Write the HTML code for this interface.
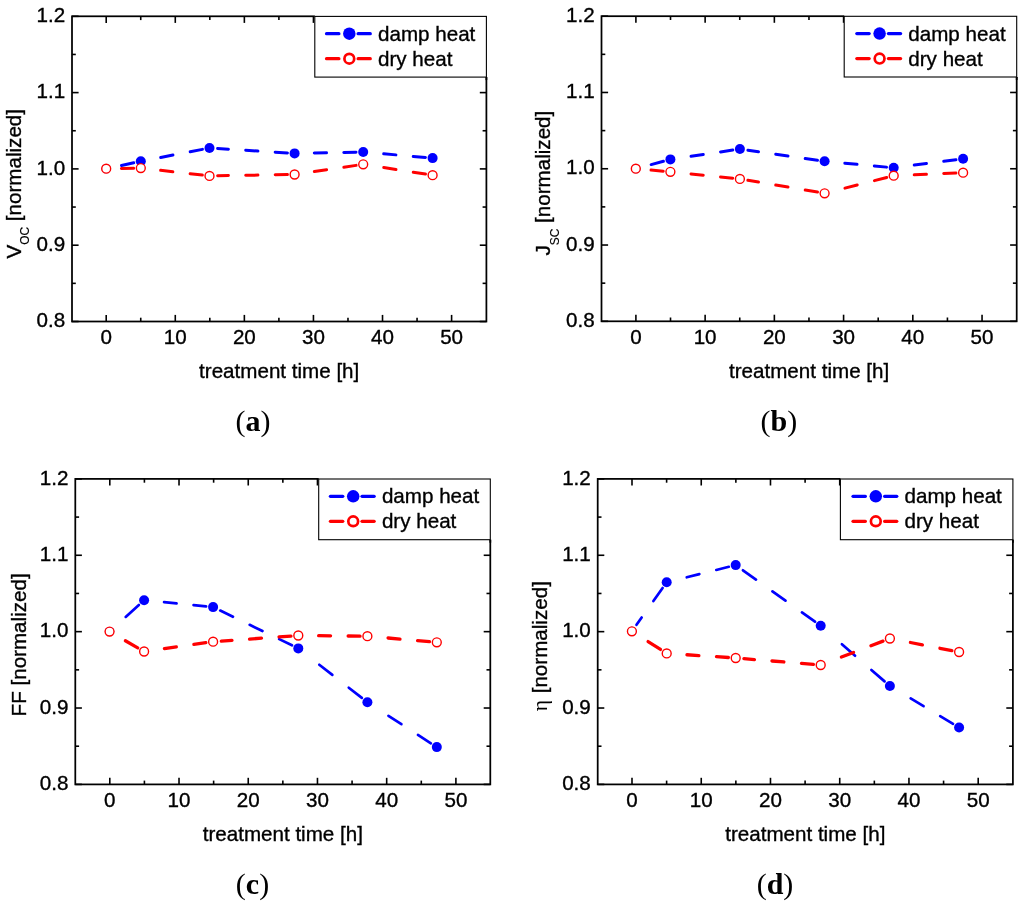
<!DOCTYPE html>
<html><head><meta charset="utf-8"><title>Figure</title>
<style>html,body{margin:0;padding:0;background:#fff}svg{display:block}text{stroke:#000;stroke-width:0.35px}text.ns{stroke:none}</style>
</head><body>
<svg width="1024" height="902" viewBox="0 0 1024 902">
<rect width="100%" height="100%" fill="#fff"/>
<g id="panel-a" font-family="'Liberation Sans', Arial, sans-serif" font-size="20.6px" fill="#000">
<line x1="133.76" y1="162.77" x2="114.12" y2="167.00" stroke="#0000ff" stroke-width="3.0" stroke-dasharray="12.55 17.63" stroke-linecap="round"/>
<line x1="202.43" y1="149.36" x2="148.75" y2="159.72" stroke="#0000ff" stroke-width="3.0" stroke-dasharray="12.48 17.56" stroke-linecap="round"/>
<line x1="287.41" y1="152.94" x2="217.58" y2="148.51" stroke="#0000ff" stroke-width="3.0" stroke-dasharray="12.23 17.33" stroke-linecap="round"/>
<line x1="356.00" y1="152.15" x2="302.70" y2="153.23" stroke="#0000ff" stroke-width="3.0" stroke-dasharray="12.20 17.30" stroke-linecap="round"/>
<line x1="425.43" y1="157.47" x2="371.27" y2="152.71" stroke="#0000ff" stroke-width="3.0" stroke-dasharray="12.26 17.36" stroke-linecap="round"/>
<circle cx="106.20" cy="168.70" r="4.6" fill="#0000ff"/>
<circle cx="140.80" cy="161.25" r="5.0" fill="#0000ff"/>
<circle cx="209.50" cy="148.00" r="5.0" fill="#0000ff"/>
<circle cx="294.60" cy="153.40" r="5.0" fill="#0000ff"/>
<circle cx="363.20" cy="152.00" r="5.0" fill="#0000ff"/>
<circle cx="432.60" cy="158.10" r="5.0" fill="#0000ff"/>
<line x1="133.60" y1="168.22" x2="114.30" y2="168.56" stroke="#ff0000" stroke-width="3.0" stroke-dasharray="12.20 17.30" stroke-linecap="round"/>
<line x1="202.35" y1="175.09" x2="148.85" y2="169.01" stroke="#ff0000" stroke-width="3.0" stroke-dasharray="12.30 17.39" stroke-linecap="round"/>
<line x1="287.40" y1="174.62" x2="217.60" y2="175.77" stroke="#ff0000" stroke-width="3.0" stroke-dasharray="12.20 17.30" stroke-linecap="round"/>
<line x1="356.08" y1="165.36" x2="302.61" y2="173.31" stroke="#ff0000" stroke-width="3.0" stroke-dasharray="12.37 17.46" stroke-linecap="round"/>
<line x1="425.49" y1="174.08" x2="371.20" y2="165.56" stroke="#ff0000" stroke-width="3.0" stroke-dasharray="12.39 17.48" stroke-linecap="round"/>
<circle cx="106.20" cy="168.70" r="4.45" fill="#fff" stroke="#ff0000" stroke-width="1.4"/>
<circle cx="140.80" cy="168.10" r="4.45" fill="#fff" stroke="#ff0000" stroke-width="1.4"/>
<circle cx="209.50" cy="175.90" r="4.45" fill="#fff" stroke="#ff0000" stroke-width="1.4"/>
<circle cx="294.60" cy="174.50" r="4.45" fill="#fff" stroke="#ff0000" stroke-width="1.4"/>
<circle cx="363.20" cy="164.30" r="4.45" fill="#fff" stroke="#ff0000" stroke-width="1.4"/>
<circle cx="432.60" cy="175.20" r="4.45" fill="#fff" stroke="#ff0000" stroke-width="1.4"/>
<rect x="72.0" y="16.3" width="414.40" height="305.20" fill="none" stroke="#000" stroke-width="1.75"/>
<line x1="106.20" y1="321.50" x2="106.20" y2="314.90" stroke="#000" stroke-width="1.6" />
<line x1="106.20" y1="16.30" x2="106.20" y2="22.90" stroke="#000" stroke-width="1.6" />
<text x="106.20" y="344.30" text-anchor="middle">0</text>
<line x1="140.74" y1="321.50" x2="140.74" y2="317.70" stroke="#000" stroke-width="1.6" />
<line x1="140.74" y1="16.30" x2="140.74" y2="20.10" stroke="#000" stroke-width="1.6" />
<line x1="175.28" y1="321.50" x2="175.28" y2="314.90" stroke="#000" stroke-width="1.6" />
<line x1="175.28" y1="16.30" x2="175.28" y2="22.90" stroke="#000" stroke-width="1.6" />
<text x="175.28" y="344.30" text-anchor="middle">10</text>
<line x1="209.82" y1="321.50" x2="209.82" y2="317.70" stroke="#000" stroke-width="1.6" />
<line x1="209.82" y1="16.30" x2="209.82" y2="20.10" stroke="#000" stroke-width="1.6" />
<line x1="244.36" y1="321.50" x2="244.36" y2="314.90" stroke="#000" stroke-width="1.6" />
<line x1="244.36" y1="16.30" x2="244.36" y2="22.90" stroke="#000" stroke-width="1.6" />
<text x="244.36" y="344.30" text-anchor="middle">20</text>
<line x1="278.90" y1="321.50" x2="278.90" y2="317.70" stroke="#000" stroke-width="1.6" />
<line x1="278.90" y1="16.30" x2="278.90" y2="20.10" stroke="#000" stroke-width="1.6" />
<line x1="313.44" y1="321.50" x2="313.44" y2="314.90" stroke="#000" stroke-width="1.6" />
<line x1="313.44" y1="16.30" x2="313.44" y2="22.90" stroke="#000" stroke-width="1.6" />
<text x="313.44" y="344.30" text-anchor="middle">30</text>
<line x1="347.98" y1="321.50" x2="347.98" y2="317.70" stroke="#000" stroke-width="1.6" />
<line x1="347.98" y1="16.30" x2="347.98" y2="20.10" stroke="#000" stroke-width="1.6" />
<line x1="382.52" y1="321.50" x2="382.52" y2="314.90" stroke="#000" stroke-width="1.6" />
<line x1="382.52" y1="16.30" x2="382.52" y2="22.90" stroke="#000" stroke-width="1.6" />
<text x="382.52" y="344.30" text-anchor="middle">40</text>
<line x1="417.06" y1="321.50" x2="417.06" y2="317.70" stroke="#000" stroke-width="1.6" />
<line x1="417.06" y1="16.30" x2="417.06" y2="20.10" stroke="#000" stroke-width="1.6" />
<line x1="451.60" y1="321.50" x2="451.60" y2="314.90" stroke="#000" stroke-width="1.6" />
<line x1="451.60" y1="16.30" x2="451.60" y2="22.90" stroke="#000" stroke-width="1.6" />
<text x="451.60" y="344.30" text-anchor="middle">50</text>
<line x1="72.00" y1="321.50" x2="78.60" y2="321.50" stroke="#000" stroke-width="1.6" />
<line x1="486.40" y1="321.50" x2="479.80" y2="321.50" stroke="#000" stroke-width="1.6" />
<text x="65.10" y="327.20" text-anchor="end">0.8</text>
<line x1="72.00" y1="283.35" x2="75.80" y2="283.35" stroke="#000" stroke-width="1.6" />
<line x1="486.40" y1="283.35" x2="482.60" y2="283.35" stroke="#000" stroke-width="1.6" />
<line x1="72.00" y1="245.20" x2="78.60" y2="245.20" stroke="#000" stroke-width="1.6" />
<line x1="486.40" y1="245.20" x2="479.80" y2="245.20" stroke="#000" stroke-width="1.6" />
<text x="65.10" y="250.90" text-anchor="end">0.9</text>
<line x1="72.00" y1="207.05" x2="75.80" y2="207.05" stroke="#000" stroke-width="1.6" />
<line x1="486.40" y1="207.05" x2="482.60" y2="207.05" stroke="#000" stroke-width="1.6" />
<line x1="72.00" y1="168.90" x2="78.60" y2="168.90" stroke="#000" stroke-width="1.6" />
<line x1="486.40" y1="168.90" x2="479.80" y2="168.90" stroke="#000" stroke-width="1.6" />
<text x="65.10" y="174.60" text-anchor="end">1.0</text>
<line x1="72.00" y1="130.75" x2="75.80" y2="130.75" stroke="#000" stroke-width="1.6" />
<line x1="486.40" y1="130.75" x2="482.60" y2="130.75" stroke="#000" stroke-width="1.6" />
<line x1="72.00" y1="92.60" x2="78.60" y2="92.60" stroke="#000" stroke-width="1.6" />
<line x1="486.40" y1="92.60" x2="479.80" y2="92.60" stroke="#000" stroke-width="1.6" />
<text x="65.10" y="98.30" text-anchor="end">1.1</text>
<line x1="72.00" y1="54.45" x2="75.80" y2="54.45" stroke="#000" stroke-width="1.6" />
<line x1="486.40" y1="54.45" x2="482.60" y2="54.45" stroke="#000" stroke-width="1.6" />
<line x1="72.00" y1="16.30" x2="78.60" y2="16.30" stroke="#000" stroke-width="1.6" />
<line x1="486.40" y1="16.30" x2="479.80" y2="16.30" stroke="#000" stroke-width="1.6" />
<text x="65.10" y="22.00" text-anchor="end">1.2</text>
<text x="279.20" y="378.30" text-anchor="middle" font-size="20.6px">treatment time [h]</text>
<text transform="translate(21.00,258.60) rotate(-90)" font-size="20.6px">V<tspan font-size="12px" dy="8.4" style="stroke-width:0.15px">OC</tspan><tspan dy="-8.4"> [normalized]</tspan></text>
<rect x="314.80" y="14.30" width="173.60" height="62.8" fill="#fff"/>
<rect x="314.80" y="16.40" width="171.60" height="60.699999999999996" fill="#fff" stroke="#000" stroke-width="1.1"/>
<line x1="486.40" y1="77.10" x2="486.40" y2="80.10" stroke="#000" stroke-width="1.75" />
<line x1="326.50" y1="33.70" x2="338.90" y2="33.70" stroke="#0000ff" stroke-width="3.2" stroke-linecap="round"/>
<line x1="358.10" y1="33.70" x2="370.30" y2="33.70" stroke="#0000ff" stroke-width="3.2" stroke-linecap="round"/>
<circle cx="349.30" cy="33.70" r="6.25" fill="#0000ff"/>
<text x="378.00" y="40.80" font-size="20.6px">damp heat</text>
<line x1="326.50" y1="58.70" x2="338.90" y2="58.70" stroke="#ff0000" stroke-width="3.2" stroke-linecap="round"/>
<line x1="358.10" y1="58.70" x2="370.30" y2="58.70" stroke="#ff0000" stroke-width="3.2" stroke-linecap="round"/>
<circle cx="349.30" cy="58.70" r="4.9" fill="#fff" stroke="#ff0000" stroke-width="2.7"/>
<text x="378.00" y="65.80" font-size="20.6px">dry heat</text>
<text x="253" y="431.0" text-anchor="middle" font-family="'Liberation Serif', 'Times New Roman', serif" font-size="30px" class="ns">(<tspan font-weight="bold">a</tspan>)</text>
</g>
<g id="panel-b" font-family="'Liberation Sans', Arial, sans-serif" font-size="20.6px" fill="#000">
<line x1="663.45" y1="161.27" x2="643.62" y2="166.60" stroke="#0000ff" stroke-width="3.0" stroke-dasharray="12.74 17.81" stroke-linecap="round"/>
<line x1="732.78" y1="150.07" x2="678.41" y2="158.20" stroke="#0000ff" stroke-width="3.0" stroke-dasharray="12.37 17.46" stroke-linecap="round"/>
<line x1="817.47" y1="160.27" x2="747.92" y2="150.16" stroke="#0000ff" stroke-width="3.0" stroke-dasharray="12.36 17.45" stroke-linecap="round"/>
<line x1="886.53" y1="167.13" x2="832.66" y2="162.06" stroke="#0000ff" stroke-width="3.0" stroke-dasharray="12.27 17.36" stroke-linecap="round"/>
<line x1="955.96" y1="159.64" x2="901.73" y2="166.75" stroke="#0000ff" stroke-width="3.0" stroke-dasharray="12.33 17.42" stroke-linecap="round"/>
<circle cx="635.80" cy="168.70" r="4.6" fill="#0000ff"/>
<circle cx="670.40" cy="159.40" r="5.0" fill="#0000ff"/>
<circle cx="739.90" cy="149.00" r="5.0" fill="#0000ff"/>
<circle cx="824.60" cy="161.30" r="5.0" fill="#0000ff"/>
<circle cx="893.70" cy="167.80" r="5.0" fill="#0000ff"/>
<circle cx="963.10" cy="158.70" r="5.0" fill="#0000ff"/>
<line x1="663.23" y1="171.16" x2="643.87" y2="169.42" stroke="#ff0000" stroke-width="3.0" stroke-dasharray="12.26 17.36" stroke-linecap="round"/>
<line x1="732.74" y1="178.17" x2="678.46" y2="172.62" stroke="#ff0000" stroke-width="3.0" stroke-dasharray="12.28 17.37" stroke-linecap="round"/>
<line x1="817.50" y1="192.09" x2="747.89" y2="180.26" stroke="#ff0000" stroke-width="3.0" stroke-dasharray="12.42 17.51" stroke-linecap="round"/>
<line x1="886.72" y1="177.48" x2="832.45" y2="191.30" stroke="#ff0000" stroke-width="3.0" stroke-dasharray="12.69 17.76" stroke-linecap="round"/>
<line x1="955.91" y1="173.01" x2="901.79" y2="175.35" stroke="#ff0000" stroke-width="3.0" stroke-dasharray="12.21 17.31" stroke-linecap="round"/>
<circle cx="635.80" cy="168.70" r="4.45" fill="#fff" stroke="#ff0000" stroke-width="1.4"/>
<circle cx="670.40" cy="171.80" r="4.45" fill="#fff" stroke="#ff0000" stroke-width="1.4"/>
<circle cx="739.90" cy="178.90" r="4.45" fill="#fff" stroke="#ff0000" stroke-width="1.4"/>
<circle cx="824.60" cy="193.30" r="4.45" fill="#fff" stroke="#ff0000" stroke-width="1.4"/>
<circle cx="893.70" cy="175.70" r="4.45" fill="#fff" stroke="#ff0000" stroke-width="1.4"/>
<circle cx="963.10" cy="172.70" r="4.45" fill="#fff" stroke="#ff0000" stroke-width="1.4"/>
<rect x="601.5" y="16.2" width="415.20" height="305.10" fill="none" stroke="#000" stroke-width="1.75"/>
<line x1="635.90" y1="321.30" x2="635.90" y2="314.70" stroke="#000" stroke-width="1.6" />
<line x1="635.90" y1="16.20" x2="635.90" y2="22.80" stroke="#000" stroke-width="1.6" />
<text x="635.90" y="344.10" text-anchor="middle">0</text>
<line x1="670.51" y1="321.30" x2="670.51" y2="317.50" stroke="#000" stroke-width="1.6" />
<line x1="670.51" y1="16.20" x2="670.51" y2="20.00" stroke="#000" stroke-width="1.6" />
<line x1="705.13" y1="321.30" x2="705.13" y2="314.70" stroke="#000" stroke-width="1.6" />
<line x1="705.13" y1="16.20" x2="705.13" y2="22.80" stroke="#000" stroke-width="1.6" />
<text x="705.13" y="344.10" text-anchor="middle">10</text>
<line x1="739.75" y1="321.30" x2="739.75" y2="317.50" stroke="#000" stroke-width="1.6" />
<line x1="739.75" y1="16.20" x2="739.75" y2="20.00" stroke="#000" stroke-width="1.6" />
<line x1="774.36" y1="321.30" x2="774.36" y2="314.70" stroke="#000" stroke-width="1.6" />
<line x1="774.36" y1="16.20" x2="774.36" y2="22.80" stroke="#000" stroke-width="1.6" />
<text x="774.36" y="344.10" text-anchor="middle">20</text>
<line x1="808.97" y1="321.30" x2="808.97" y2="317.50" stroke="#000" stroke-width="1.6" />
<line x1="808.97" y1="16.20" x2="808.97" y2="20.00" stroke="#000" stroke-width="1.6" />
<line x1="843.59" y1="321.30" x2="843.59" y2="314.70" stroke="#000" stroke-width="1.6" />
<line x1="843.59" y1="16.20" x2="843.59" y2="22.80" stroke="#000" stroke-width="1.6" />
<text x="843.59" y="344.10" text-anchor="middle">30</text>
<line x1="878.20" y1="321.30" x2="878.20" y2="317.50" stroke="#000" stroke-width="1.6" />
<line x1="878.20" y1="16.20" x2="878.20" y2="20.00" stroke="#000" stroke-width="1.6" />
<line x1="912.82" y1="321.30" x2="912.82" y2="314.70" stroke="#000" stroke-width="1.6" />
<line x1="912.82" y1="16.20" x2="912.82" y2="22.80" stroke="#000" stroke-width="1.6" />
<text x="912.82" y="344.10" text-anchor="middle">40</text>
<line x1="947.43" y1="321.30" x2="947.43" y2="317.50" stroke="#000" stroke-width="1.6" />
<line x1="947.43" y1="16.20" x2="947.43" y2="20.00" stroke="#000" stroke-width="1.6" />
<line x1="982.05" y1="321.30" x2="982.05" y2="314.70" stroke="#000" stroke-width="1.6" />
<line x1="982.05" y1="16.20" x2="982.05" y2="22.80" stroke="#000" stroke-width="1.6" />
<text x="982.05" y="344.10" text-anchor="middle">50</text>
<line x1="601.50" y1="321.30" x2="608.10" y2="321.30" stroke="#000" stroke-width="1.6" />
<line x1="1016.70" y1="321.30" x2="1010.10" y2="321.30" stroke="#000" stroke-width="1.6" />
<text x="594.60" y="327.00" text-anchor="end">0.8</text>
<line x1="601.50" y1="283.16" x2="605.30" y2="283.16" stroke="#000" stroke-width="1.6" />
<line x1="1016.70" y1="283.16" x2="1012.90" y2="283.16" stroke="#000" stroke-width="1.6" />
<line x1="601.50" y1="245.03" x2="608.10" y2="245.03" stroke="#000" stroke-width="1.6" />
<line x1="1016.70" y1="245.03" x2="1010.10" y2="245.03" stroke="#000" stroke-width="1.6" />
<text x="594.60" y="250.73" text-anchor="end">0.9</text>
<line x1="601.50" y1="206.89" x2="605.30" y2="206.89" stroke="#000" stroke-width="1.6" />
<line x1="1016.70" y1="206.89" x2="1012.90" y2="206.89" stroke="#000" stroke-width="1.6" />
<line x1="601.50" y1="168.75" x2="608.10" y2="168.75" stroke="#000" stroke-width="1.6" />
<line x1="1016.70" y1="168.75" x2="1010.10" y2="168.75" stroke="#000" stroke-width="1.6" />
<text x="594.60" y="174.45" text-anchor="end">1.0</text>
<line x1="601.50" y1="130.61" x2="605.30" y2="130.61" stroke="#000" stroke-width="1.6" />
<line x1="1016.70" y1="130.61" x2="1012.90" y2="130.61" stroke="#000" stroke-width="1.6" />
<line x1="601.50" y1="92.47" x2="608.10" y2="92.47" stroke="#000" stroke-width="1.6" />
<line x1="1016.70" y1="92.47" x2="1010.10" y2="92.47" stroke="#000" stroke-width="1.6" />
<text x="594.60" y="98.17" text-anchor="end">1.1</text>
<line x1="601.50" y1="54.34" x2="605.30" y2="54.34" stroke="#000" stroke-width="1.6" />
<line x1="1016.70" y1="54.34" x2="1012.90" y2="54.34" stroke="#000" stroke-width="1.6" />
<line x1="601.50" y1="16.20" x2="608.10" y2="16.20" stroke="#000" stroke-width="1.6" />
<line x1="1016.70" y1="16.20" x2="1010.10" y2="16.20" stroke="#000" stroke-width="1.6" />
<text x="594.60" y="21.90" text-anchor="end">1.2</text>
<text x="809.10" y="378.10" text-anchor="middle" font-size="20.6px">treatment time [h]</text>
<text transform="translate(550.10,255.60) rotate(-90)" font-size="20.6px">J<tspan font-size="12px" dy="8.4" style="stroke-width:0.15px">SC</tspan><tspan dy="-8.4"> [normalized]</tspan></text>
<rect x="844.20" y="14.20" width="174.50" height="62.8" fill="#fff"/>
<rect x="844.20" y="16.30" width="172.50" height="60.699999999999996" fill="#fff" stroke="#000" stroke-width="1.1"/>
<line x1="1016.70" y1="77.00" x2="1016.70" y2="80.00" stroke="#000" stroke-width="1.75" />
<line x1="856.80" y1="33.60" x2="869.20" y2="33.60" stroke="#0000ff" stroke-width="3.2" stroke-linecap="round"/>
<line x1="888.40" y1="33.60" x2="900.60" y2="33.60" stroke="#0000ff" stroke-width="3.2" stroke-linecap="round"/>
<circle cx="879.60" cy="33.60" r="6.25" fill="#0000ff"/>
<text x="908.30" y="40.70" font-size="20.6px">damp heat</text>
<line x1="856.80" y1="58.60" x2="869.20" y2="58.60" stroke="#ff0000" stroke-width="3.2" stroke-linecap="round"/>
<line x1="888.40" y1="58.60" x2="900.60" y2="58.60" stroke="#ff0000" stroke-width="3.2" stroke-linecap="round"/>
<circle cx="879.60" cy="58.60" r="4.9" fill="#fff" stroke="#ff0000" stroke-width="2.7"/>
<text x="908.30" y="65.70" font-size="20.6px">dry heat</text>
<text x="778.8" y="431.0" text-anchor="middle" font-family="'Liberation Serif', 'Times New Roman', serif" font-size="30px" class="ns">(<tspan font-weight="bold">b</tspan>)</text>
</g>
<g id="panel-c" font-family="'Liberation Sans', Arial, sans-serif" font-size="20.6px" fill="#000">
<line x1="138.88" y1="604.94" x2="115.43" y2="626.25" stroke="#0000ff" stroke-width="2.7" stroke-dasharray="17.84 22.02" stroke-linecap="round"/>
<line x1="206.08" y1="606.40" x2="152.01" y2="600.99" stroke="#0000ff" stroke-width="2.7" stroke-dasharray="12.58 17.07" stroke-linecap="round"/>
<line x1="291.96" y1="645.32" x2="220.25" y2="610.57" stroke="#0000ff" stroke-width="2.7" stroke-dasharray="14.19 18.59" stroke-linecap="round"/>
<line x1="361.84" y1="697.87" x2="304.57" y2="653.28" stroke="#0000ff" stroke-width="2.7" stroke-dasharray="16.56 20.82" stroke-linecap="round"/>
<line x1="430.88" y1="743.27" x2="374.07" y2="706.52" stroke="#0000ff" stroke-width="2.7" stroke-dasharray="15.40 19.73" stroke-linecap="round"/>
<circle cx="109.55" cy="631.60" r="4.6" fill="#0000ff"/>
<circle cx="144.10" cy="600.20" r="5.0" fill="#0000ff"/>
<circle cx="213.10" cy="607.10" r="5.0" fill="#0000ff"/>
<circle cx="298.30" cy="648.40" r="5.0" fill="#0000ff"/>
<circle cx="367.40" cy="702.20" r="5.0" fill="#0000ff"/>
<circle cx="436.80" cy="747.10" r="5.0" fill="#0000ff"/>
<line x1="137.73" y1="647.83" x2="116.70" y2="635.72" stroke="#ff0000" stroke-width="3.3" stroke-dasharray="14.24 19.80" stroke-linecap="round"/>
<line x1="205.82" y1="642.73" x2="152.27" y2="650.34" stroke="#ff0000" stroke-width="3.3" stroke-dasharray="12.05 17.74" stroke-linecap="round"/>
<line x1="290.97" y1="636.03" x2="221.33" y2="641.10" stroke="#ff0000" stroke-width="3.3" stroke-dasharray="11.94 17.64" stroke-linecap="round"/>
<line x1="360.05" y1="636.13" x2="306.55" y2="635.58" stroke="#ff0000" stroke-width="3.3" stroke-dasharray="11.90 17.60" stroke-linecap="round"/>
<line x1="429.48" y1="641.66" x2="375.62" y2="636.92" stroke="#ff0000" stroke-width="3.3" stroke-dasharray="11.96 17.66" stroke-linecap="round"/>
<circle cx="109.55" cy="631.60" r="4.45" fill="#fff" stroke="#ff0000" stroke-width="1.4"/>
<circle cx="144.10" cy="651.50" r="4.45" fill="#fff" stroke="#ff0000" stroke-width="1.4"/>
<circle cx="213.10" cy="641.70" r="4.45" fill="#fff" stroke="#ff0000" stroke-width="1.4"/>
<circle cx="298.30" cy="635.50" r="4.45" fill="#fff" stroke="#ff0000" stroke-width="1.4"/>
<circle cx="367.40" cy="636.20" r="4.45" fill="#fff" stroke="#ff0000" stroke-width="1.4"/>
<circle cx="436.80" cy="642.30" r="4.45" fill="#fff" stroke="#ff0000" stroke-width="1.4"/>
<rect x="75.3" y="478.9" width="415.00" height="305.50" fill="none" stroke="#000" stroke-width="1.75"/>
<line x1="109.80" y1="784.40" x2="109.80" y2="777.80" stroke="#000" stroke-width="1.6" />
<line x1="109.80" y1="478.90" x2="109.80" y2="485.50" stroke="#000" stroke-width="1.6" />
<text x="109.80" y="807.20" text-anchor="middle">0</text>
<line x1="144.41" y1="784.40" x2="144.41" y2="780.60" stroke="#000" stroke-width="1.6" />
<line x1="144.41" y1="478.90" x2="144.41" y2="482.70" stroke="#000" stroke-width="1.6" />
<line x1="179.02" y1="784.40" x2="179.02" y2="777.80" stroke="#000" stroke-width="1.6" />
<line x1="179.02" y1="478.90" x2="179.02" y2="485.50" stroke="#000" stroke-width="1.6" />
<text x="179.02" y="807.20" text-anchor="middle">10</text>
<line x1="213.63" y1="784.40" x2="213.63" y2="780.60" stroke="#000" stroke-width="1.6" />
<line x1="213.63" y1="478.90" x2="213.63" y2="482.70" stroke="#000" stroke-width="1.6" />
<line x1="248.24" y1="784.40" x2="248.24" y2="777.80" stroke="#000" stroke-width="1.6" />
<line x1="248.24" y1="478.90" x2="248.24" y2="485.50" stroke="#000" stroke-width="1.6" />
<text x="248.24" y="807.20" text-anchor="middle">20</text>
<line x1="282.85" y1="784.40" x2="282.85" y2="780.60" stroke="#000" stroke-width="1.6" />
<line x1="282.85" y1="478.90" x2="282.85" y2="482.70" stroke="#000" stroke-width="1.6" />
<line x1="317.46" y1="784.40" x2="317.46" y2="777.80" stroke="#000" stroke-width="1.6" />
<line x1="317.46" y1="478.90" x2="317.46" y2="485.50" stroke="#000" stroke-width="1.6" />
<text x="317.46" y="807.20" text-anchor="middle">30</text>
<line x1="352.07" y1="784.40" x2="352.07" y2="780.60" stroke="#000" stroke-width="1.6" />
<line x1="352.07" y1="478.90" x2="352.07" y2="482.70" stroke="#000" stroke-width="1.6" />
<line x1="386.68" y1="784.40" x2="386.68" y2="777.80" stroke="#000" stroke-width="1.6" />
<line x1="386.68" y1="478.90" x2="386.68" y2="485.50" stroke="#000" stroke-width="1.6" />
<text x="386.68" y="807.20" text-anchor="middle">40</text>
<line x1="421.29" y1="784.40" x2="421.29" y2="780.60" stroke="#000" stroke-width="1.6" />
<line x1="421.29" y1="478.90" x2="421.29" y2="482.70" stroke="#000" stroke-width="1.6" />
<line x1="455.90" y1="784.40" x2="455.90" y2="777.80" stroke="#000" stroke-width="1.6" />
<line x1="455.90" y1="478.90" x2="455.90" y2="485.50" stroke="#000" stroke-width="1.6" />
<text x="455.90" y="807.20" text-anchor="middle">50</text>
<line x1="75.30" y1="784.40" x2="81.90" y2="784.40" stroke="#000" stroke-width="1.6" />
<line x1="490.30" y1="784.40" x2="483.70" y2="784.40" stroke="#000" stroke-width="1.6" />
<text x="68.40" y="790.10" text-anchor="end">0.8</text>
<line x1="75.30" y1="746.21" x2="79.10" y2="746.21" stroke="#000" stroke-width="1.6" />
<line x1="490.30" y1="746.21" x2="486.50" y2="746.21" stroke="#000" stroke-width="1.6" />
<line x1="75.30" y1="708.02" x2="81.90" y2="708.02" stroke="#000" stroke-width="1.6" />
<line x1="490.30" y1="708.02" x2="483.70" y2="708.02" stroke="#000" stroke-width="1.6" />
<text x="68.40" y="713.73" text-anchor="end">0.9</text>
<line x1="75.30" y1="669.84" x2="79.10" y2="669.84" stroke="#000" stroke-width="1.6" />
<line x1="490.30" y1="669.84" x2="486.50" y2="669.84" stroke="#000" stroke-width="1.6" />
<line x1="75.30" y1="631.65" x2="81.90" y2="631.65" stroke="#000" stroke-width="1.6" />
<line x1="490.30" y1="631.65" x2="483.70" y2="631.65" stroke="#000" stroke-width="1.6" />
<text x="68.40" y="637.35" text-anchor="end">1.0</text>
<line x1="75.30" y1="593.46" x2="79.10" y2="593.46" stroke="#000" stroke-width="1.6" />
<line x1="490.30" y1="593.46" x2="486.50" y2="593.46" stroke="#000" stroke-width="1.6" />
<line x1="75.30" y1="555.27" x2="81.90" y2="555.27" stroke="#000" stroke-width="1.6" />
<line x1="490.30" y1="555.27" x2="483.70" y2="555.27" stroke="#000" stroke-width="1.6" />
<text x="68.40" y="560.98" text-anchor="end">1.1</text>
<line x1="75.30" y1="517.09" x2="79.10" y2="517.09" stroke="#000" stroke-width="1.6" />
<line x1="490.30" y1="517.09" x2="486.50" y2="517.09" stroke="#000" stroke-width="1.6" />
<line x1="75.30" y1="478.90" x2="81.90" y2="478.90" stroke="#000" stroke-width="1.6" />
<line x1="490.30" y1="478.90" x2="483.70" y2="478.90" stroke="#000" stroke-width="1.6" />
<text x="68.40" y="484.60" text-anchor="end">1.2</text>
<text x="282.80" y="841.20" text-anchor="middle" font-size="20.6px">treatment time [h]</text>
<text transform="translate(26.45,716.40) rotate(-90)" font-size="20.6px">FF [normalized]</text>
<rect x="318.70" y="476.90" width="173.60" height="62.8" fill="#fff"/>
<rect x="318.70" y="479.00" width="171.60" height="60.699999999999996" fill="#fff" stroke="#000" stroke-width="1.1"/>
<line x1="490.30" y1="539.70" x2="490.30" y2="542.70" stroke="#000" stroke-width="1.75" />
<line x1="330.40" y1="496.30" x2="342.80" y2="496.30" stroke="#0000ff" stroke-width="3.2" stroke-linecap="round"/>
<line x1="362.00" y1="496.30" x2="374.20" y2="496.30" stroke="#0000ff" stroke-width="3.2" stroke-linecap="round"/>
<circle cx="353.20" cy="496.30" r="6.25" fill="#0000ff"/>
<text x="381.90" y="503.40" font-size="20.6px">damp heat</text>
<line x1="330.40" y1="521.30" x2="342.80" y2="521.30" stroke="#ff0000" stroke-width="3.2" stroke-linecap="round"/>
<line x1="362.00" y1="521.30" x2="374.20" y2="521.30" stroke="#ff0000" stroke-width="3.2" stroke-linecap="round"/>
<circle cx="353.20" cy="521.30" r="4.9" fill="#fff" stroke="#ff0000" stroke-width="2.7"/>
<text x="381.90" y="528.40" font-size="20.6px">dry heat</text>
<text x="252.5" y="894.0" text-anchor="middle" font-family="'Liberation Serif', 'Times New Roman', serif" font-size="30px" class="ns">(<tspan font-weight="bold">c</tspan>)</text>
</g>
<g id="panel-d" font-family="'Liberation Sans', Arial, sans-serif" font-size="20.6px" fill="#000">
<line x1="662.62" y1="588.05" x2="636.50" y2="624.82" stroke="#0000ff" stroke-width="2.7" stroke-dasharray="15.94 20.24" stroke-linecap="round"/>
<line x1="728.86" y1="566.81" x2="674.41" y2="580.38" stroke="#0000ff" stroke-width="2.7" stroke-dasharray="12.97 17.44" stroke-linecap="round"/>
<line x1="814.96" y1="621.70" x2="742.17" y2="569.72" stroke="#0000ff" stroke-width="2.7" stroke-dasharray="15.98 20.27" stroke-linecap="round"/>
<line x1="884.58" y1="681.37" x2="826.70" y2="631.02" stroke="#0000ff" stroke-width="2.7" stroke-dasharray="17.45 21.65" stroke-linecap="round"/>
<line x1="953.05" y1="723.87" x2="896.72" y2="690.09" stroke="#0000ff" stroke-width="2.7" stroke-dasharray="15.02 19.37" stroke-linecap="round"/>
<circle cx="631.90" cy="631.30" r="4.6" fill="#0000ff"/>
<circle cx="666.70" cy="582.30" r="5.0" fill="#0000ff"/>
<circle cx="735.70" cy="565.10" r="5.0" fill="#0000ff"/>
<circle cx="820.70" cy="625.80" r="5.0" fill="#0000ff"/>
<circle cx="889.90" cy="686.00" r="5.0" fill="#0000ff"/>
<circle cx="959.10" cy="727.50" r="5.0" fill="#0000ff"/>
<line x1="660.50" y1="649.46" x2="638.86" y2="635.72" stroke="#ff0000" stroke-width="3.3" stroke-dasharray="14.71 20.24" stroke-linecap="round"/>
<line x1="728.37" y1="657.51" x2="674.93" y2="653.95" stroke="#ff0000" stroke-width="3.3" stroke-dasharray="11.93 17.63" stroke-linecap="round"/>
<line x1="813.37" y1="664.40" x2="743.92" y2="658.68" stroke="#ff0000" stroke-width="3.3" stroke-dasharray="11.95 17.65" stroke-linecap="round"/>
<line x1="883.04" y1="641.13" x2="828.40" y2="662.05" stroke="#ff0000" stroke-width="3.3" stroke-dasharray="12.98 18.61" stroke-linecap="round"/>
<line x1="951.89" y1="650.59" x2="898.00" y2="640.08" stroke="#ff0000" stroke-width="3.3" stroke-dasharray="12.19 17.87" stroke-linecap="round"/>
<circle cx="631.90" cy="631.30" r="4.45" fill="#fff" stroke="#ff0000" stroke-width="1.4"/>
<circle cx="666.70" cy="653.40" r="4.45" fill="#fff" stroke="#ff0000" stroke-width="1.4"/>
<circle cx="735.70" cy="658.00" r="4.45" fill="#fff" stroke="#ff0000" stroke-width="1.4"/>
<circle cx="820.70" cy="665.00" r="4.45" fill="#fff" stroke="#ff0000" stroke-width="1.4"/>
<circle cx="889.90" cy="638.50" r="4.45" fill="#fff" stroke="#ff0000" stroke-width="1.4"/>
<circle cx="959.10" cy="652.00" r="4.45" fill="#fff" stroke="#ff0000" stroke-width="1.4"/>
<rect x="597.7" y="478.9" width="415.20" height="305.50" fill="none" stroke="#000" stroke-width="1.75"/>
<line x1="632.00" y1="784.40" x2="632.00" y2="777.80" stroke="#000" stroke-width="1.6" />
<line x1="632.00" y1="478.90" x2="632.00" y2="485.50" stroke="#000" stroke-width="1.6" />
<text x="632.00" y="807.20" text-anchor="middle">0</text>
<line x1="666.62" y1="784.40" x2="666.62" y2="780.60" stroke="#000" stroke-width="1.6" />
<line x1="666.62" y1="478.90" x2="666.62" y2="482.70" stroke="#000" stroke-width="1.6" />
<line x1="701.24" y1="784.40" x2="701.24" y2="777.80" stroke="#000" stroke-width="1.6" />
<line x1="701.24" y1="478.90" x2="701.24" y2="485.50" stroke="#000" stroke-width="1.6" />
<text x="701.24" y="807.20" text-anchor="middle">10</text>
<line x1="735.86" y1="784.40" x2="735.86" y2="780.60" stroke="#000" stroke-width="1.6" />
<line x1="735.86" y1="478.90" x2="735.86" y2="482.70" stroke="#000" stroke-width="1.6" />
<line x1="770.48" y1="784.40" x2="770.48" y2="777.80" stroke="#000" stroke-width="1.6" />
<line x1="770.48" y1="478.90" x2="770.48" y2="485.50" stroke="#000" stroke-width="1.6" />
<text x="770.48" y="807.20" text-anchor="middle">20</text>
<line x1="805.10" y1="784.40" x2="805.10" y2="780.60" stroke="#000" stroke-width="1.6" />
<line x1="805.10" y1="478.90" x2="805.10" y2="482.70" stroke="#000" stroke-width="1.6" />
<line x1="839.72" y1="784.40" x2="839.72" y2="777.80" stroke="#000" stroke-width="1.6" />
<line x1="839.72" y1="478.90" x2="839.72" y2="485.50" stroke="#000" stroke-width="1.6" />
<text x="839.72" y="807.20" text-anchor="middle">30</text>
<line x1="874.34" y1="784.40" x2="874.34" y2="780.60" stroke="#000" stroke-width="1.6" />
<line x1="874.34" y1="478.90" x2="874.34" y2="482.70" stroke="#000" stroke-width="1.6" />
<line x1="908.96" y1="784.40" x2="908.96" y2="777.80" stroke="#000" stroke-width="1.6" />
<line x1="908.96" y1="478.90" x2="908.96" y2="485.50" stroke="#000" stroke-width="1.6" />
<text x="908.96" y="807.20" text-anchor="middle">40</text>
<line x1="943.58" y1="784.40" x2="943.58" y2="780.60" stroke="#000" stroke-width="1.6" />
<line x1="943.58" y1="478.90" x2="943.58" y2="482.70" stroke="#000" stroke-width="1.6" />
<line x1="978.20" y1="784.40" x2="978.20" y2="777.80" stroke="#000" stroke-width="1.6" />
<line x1="978.20" y1="478.90" x2="978.20" y2="485.50" stroke="#000" stroke-width="1.6" />
<text x="978.20" y="807.20" text-anchor="middle">50</text>
<line x1="597.70" y1="784.40" x2="604.30" y2="784.40" stroke="#000" stroke-width="1.6" />
<line x1="1012.90" y1="784.40" x2="1006.30" y2="784.40" stroke="#000" stroke-width="1.6" />
<text x="590.80" y="790.10" text-anchor="end">0.8</text>
<line x1="597.70" y1="746.21" x2="601.50" y2="746.21" stroke="#000" stroke-width="1.6" />
<line x1="1012.90" y1="746.21" x2="1009.10" y2="746.21" stroke="#000" stroke-width="1.6" />
<line x1="597.70" y1="708.02" x2="604.30" y2="708.02" stroke="#000" stroke-width="1.6" />
<line x1="1012.90" y1="708.02" x2="1006.30" y2="708.02" stroke="#000" stroke-width="1.6" />
<text x="590.80" y="713.73" text-anchor="end">0.9</text>
<line x1="597.70" y1="669.84" x2="601.50" y2="669.84" stroke="#000" stroke-width="1.6" />
<line x1="1012.90" y1="669.84" x2="1009.10" y2="669.84" stroke="#000" stroke-width="1.6" />
<line x1="597.70" y1="631.65" x2="604.30" y2="631.65" stroke="#000" stroke-width="1.6" />
<line x1="1012.90" y1="631.65" x2="1006.30" y2="631.65" stroke="#000" stroke-width="1.6" />
<text x="590.80" y="637.35" text-anchor="end">1.0</text>
<line x1="597.70" y1="593.46" x2="601.50" y2="593.46" stroke="#000" stroke-width="1.6" />
<line x1="1012.90" y1="593.46" x2="1009.10" y2="593.46" stroke="#000" stroke-width="1.6" />
<line x1="597.70" y1="555.27" x2="604.30" y2="555.27" stroke="#000" stroke-width="1.6" />
<line x1="1012.90" y1="555.27" x2="1006.30" y2="555.27" stroke="#000" stroke-width="1.6" />
<text x="590.80" y="560.98" text-anchor="end">1.1</text>
<line x1="597.70" y1="517.09" x2="601.50" y2="517.09" stroke="#000" stroke-width="1.6" />
<line x1="1012.90" y1="517.09" x2="1009.10" y2="517.09" stroke="#000" stroke-width="1.6" />
<line x1="597.70" y1="478.90" x2="604.30" y2="478.90" stroke="#000" stroke-width="1.6" />
<line x1="1012.90" y1="478.90" x2="1006.30" y2="478.90" stroke="#000" stroke-width="1.6" />
<text x="590.80" y="484.60" text-anchor="end">1.2</text>
<text x="805.30" y="841.20" text-anchor="middle" font-size="20.6px">treatment time [h]</text>
<text transform="translate(547.00,711.20) rotate(-90)" font-family="'Liberation Serif', 'DejaVu Serif', serif" font-size="21.5px" class="ns">η</text>
<text transform="translate(547.00,693.30) rotate(-90)" font-size="20.6px">[normalized]</text>
<rect x="840.40" y="476.90" width="174.50" height="62.8" fill="#fff"/>
<rect x="840.40" y="479.00" width="172.50" height="60.699999999999996" fill="#fff" stroke="#000" stroke-width="1.1"/>
<line x1="1012.90" y1="539.70" x2="1012.90" y2="542.70" stroke="#000" stroke-width="1.75" />
<line x1="853.00" y1="496.30" x2="865.40" y2="496.30" stroke="#0000ff" stroke-width="3.2" stroke-linecap="round"/>
<line x1="884.60" y1="496.30" x2="896.80" y2="496.30" stroke="#0000ff" stroke-width="3.2" stroke-linecap="round"/>
<circle cx="875.80" cy="496.30" r="6.25" fill="#0000ff"/>
<text x="904.50" y="503.40" font-size="20.6px">damp heat</text>
<line x1="853.00" y1="521.30" x2="865.40" y2="521.30" stroke="#ff0000" stroke-width="3.2" stroke-linecap="round"/>
<line x1="884.60" y1="521.30" x2="896.80" y2="521.30" stroke="#ff0000" stroke-width="3.2" stroke-linecap="round"/>
<circle cx="875.80" cy="521.30" r="4.9" fill="#fff" stroke="#ff0000" stroke-width="2.7"/>
<text x="904.50" y="528.40" font-size="20.6px">dry heat</text>
<text x="775" y="894.0" text-anchor="middle" font-family="'Liberation Serif', 'Times New Roman', serif" font-size="30px" class="ns">(<tspan font-weight="bold">d</tspan>)</text>
</g>
</svg>
</body></html>
